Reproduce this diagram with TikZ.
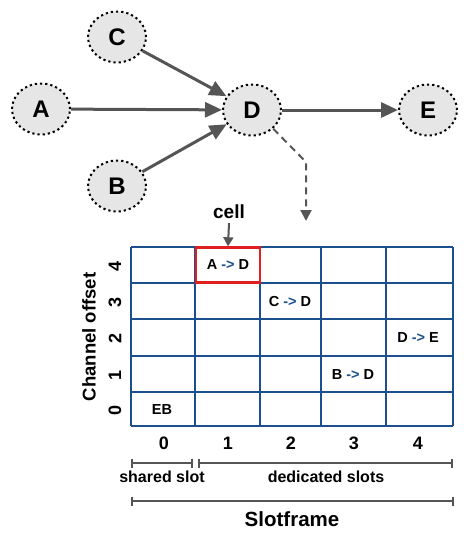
\documentclass[tikz,border=0pt]{standalone}
\usepackage{fontspec}
\setmainfont{Liberation Sans}
\usetikzlibrary{shapes.geometric,arrows.meta}
\definecolor{gridblue}{HTML}{1B4F8E}
\definecolor{arrowgray}{HTML}{555555}
\definecolor{nodegray}{HTML}{E6E6E6}
\definecolor{cellred}{HTML}{E0201E}
\newcommand{\sendto}{\textcolor{gridblue}{->}}
\newcommand{\fsz}[1]{\fontsize{#1}{#1}\selectfont\bfseries}

\tikzset{
  mote/.style={ellipse,draw=black,fill=nodegray,line width=2pt,
    dash pattern=on 2.2pt off 3pt,minimum width=58pt,minimum height=51pt,
    inner sep=0pt,font=\fsz{24}},
  link/.style={draw=arrowgray,line width=3pt,-{Triangle[length=17pt,width=15pt]}},
  celltext/.style={font=\fsz{14.5},inner sep=0pt},
  axistext/.style={font=\fsz{18},inner sep=0pt},
  span/.style={draw=arrowgray,line width=2pt,{Bar[width=9pt]}-{Bar[width=9pt]}}
}

\begin{document}
\begin{tikzpicture}[x=1pt,y=1pt]
\useasboundingbox (0,-541) rectangle (474,0);
% motes:
\node[mote] (C) at (117,-37) {C};
\node[mote] (A) at (41,-109) {A};
\node[mote] (D) at (252,-110) {D};
\node[mote] (E) at (428,-110) {E};
\node[mote] (B) at (117,-186) {B};
\draw[link] (C) -- (D);
\draw[link] (A) -- (D);
\draw[link] (B) -- (D);
\draw[link] (D) -- (E);
\coordinate (bend) at (306,-162);
\coordinate (drop) at (306,-221);
\draw[draw=arrowgray,line width=2pt,dash pattern=on 7pt off 5pt,
  -{Triangle[length=11pt,width=11pt]}] (D.south east) -- (bend) -- (drop);
% slotframe grid:
\foreach \x in {131,195,260,321,386,453}
  \draw[gridblue,line width=2.2pt] (\x,-247) -- (\x,-426);
\foreach \y in {247,283,319,356,392,426}
  \draw[gridblue,line width=2.2pt] (131,-\y) -- (453,-\y);
\node[draw=cellred,line width=2.4pt,minimum width=64pt,minimum height=35pt,
  inner sep=0pt,font=\fsz{14.5}] (AD) at (228,-265) {A \sendto{} D};
\node[celltext] (CD) at (290,-302) {C \sendto{} D};
\node[celltext] (DE) at (418,-338) {D \sendto{} E};
\node[celltext] (BD) at (353,-375) {B \sendto{} D};
\node[celltext] (EB) at (162,-410) {EB};
\node[font=\fsz{19},inner sep=0pt] (cell) at (229,-212) {cell};
\draw[draw=arrowgray,line width=2pt,-{Triangle[length=9pt,width=10pt]}]
  (cell.south) ++(0,-4) coordinate (cellfrom) (cellfrom) -- (AD.north);
% axes:
\node[axistext,rotate=90] (ch4) at (115,-266) {4};
\node[axistext,rotate=90] (ch3) at (115,-302) {3};
\node[axistext,rotate=90] (ch2) at (115,-338) {2};
\node[axistext,rotate=90] (ch1) at (115,-375) {1};
\node[axistext,rotate=90] (ch0) at (115,-410) {0};
\node[font=\fsz{18.5},inner sep=0pt,rotate=90] (chan) at (89,-337) {Channel offset};
\node[axistext] (ts0) at (164,-443) {0};
\node[axistext] (ts1) at (228,-443) {1};
\node[axistext] (ts2) at (291,-443) {2};
\node[axistext] (ts3) at (354,-443) {3};
\node[axistext] (ts4) at (418,-443) {4};
% spans:
\coordinate (sh0) at (131,-463);
\coordinate (sh1) at (193,-463);
\coordinate (de0) at (198,-463);
\coordinate (de1) at (453,-463);
\coordinate (sf0) at (131,-501);
\coordinate (sf1) at (454,-501);
\draw[span] (sh0) -- (sh1);
\draw[span] (de0) -- (de1);
\draw[span] (sf0) -- (sf1);
\node[font=\fsz{16},inner sep=0pt] (shared) at (162,-477) {shared slot};
\node[font=\fsz{16},inner sep=0pt] (dedic) at (326,-477) {dedicated slots};
\node[font=\fsz{20.5},inner sep=0pt] (frame) at (292,-519) {Slotframe};
\end{tikzpicture}
\end{document}
